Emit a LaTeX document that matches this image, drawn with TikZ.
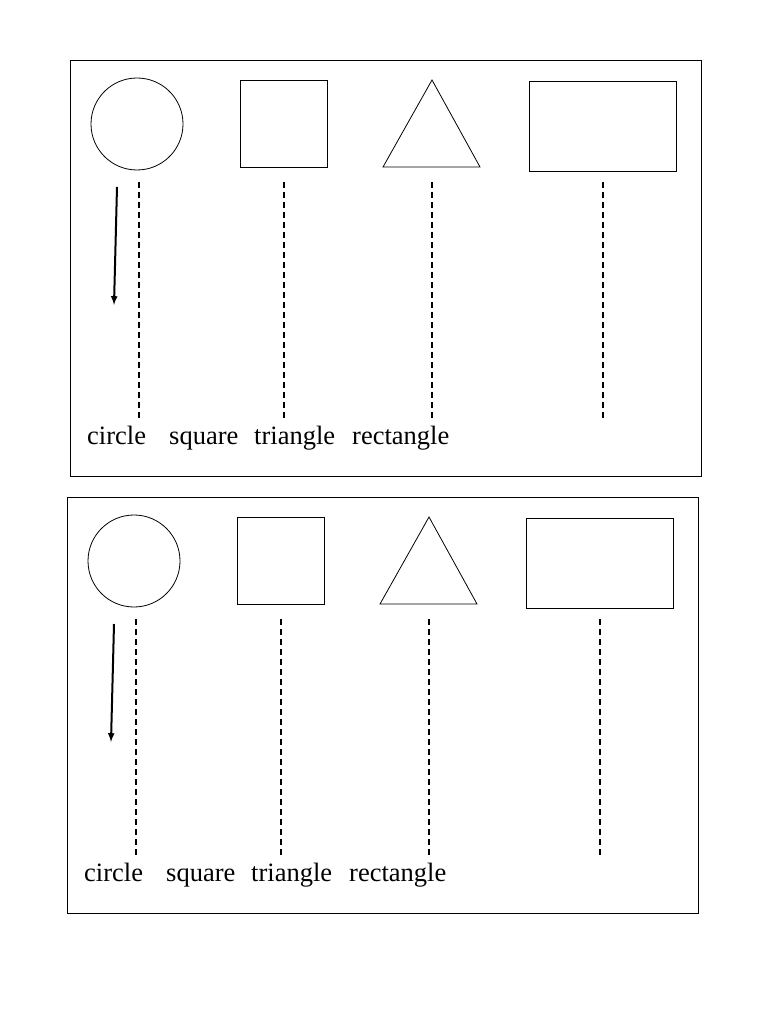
\documentclass[tikz,border=0pt]{standalone}
\usepackage{fontspec}
\setmainfont{Liberation Serif}
\begin{document}
\begin{tikzpicture}[x=1pt,y=-1pt,
  shp/.style={draw,line width=0.8pt},
  dsh/.style={line width=2pt,dash pattern=on 6pt off 4pt},
  lbl/.style={font=\fontsize{26.5}{30}\selectfont,anchor=base west,inner sep=0pt}]
\useasboundingbox (0,0) rectangle (768,1024);
\foreach \dx/\dy/\s in {0/0/a,-3/437/b}{
\begin{scope}[shift={(\dx,\dy)}]
  \draw[shp] (70,60) rectangle (701,476);
  \draw[shp] (137,124) circle (46);
  \draw[shp] (240,80) rectangle (327,167);
  \draw[shp] (432,80) -- (480,167) -- (383,167) -- cycle;
  \draw[shp] (529,81) rectangle (676,171);
  \foreach \x in {139,284,432,603}{\draw[dsh] (\x,182) -- (\x,420);}
  \draw[line width=2pt,-latex] (117,187) -- (114,305);
  \node[lbl] at (87,444) {circle};
  \node[lbl] at (169,444) {square};
  \node[lbl] at (254,444) {triangle};
  \node[lbl] at (352,444) {rectangle};
\end{scope}}
\end{tikzpicture}
\end{document}
